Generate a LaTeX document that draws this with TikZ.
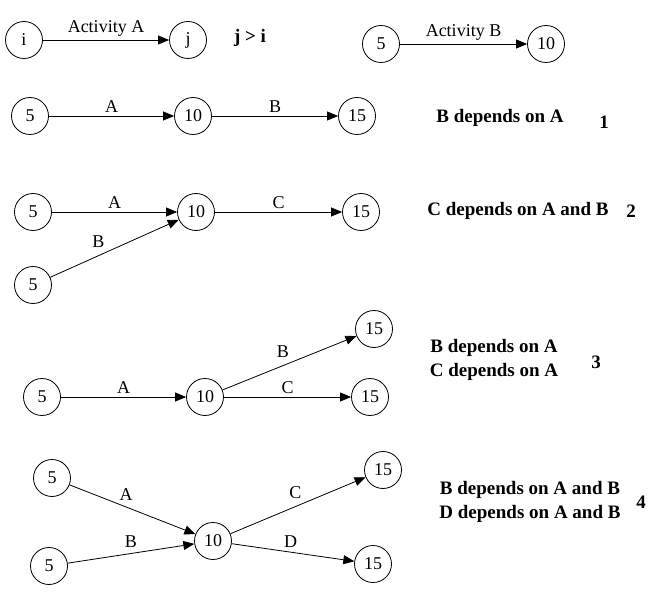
\documentclass[tikz,border=0pt]{standalone}
\usepackage{fontspec}
\setmainfont{Liberation Serif}
\usetikzlibrary{arrows.meta}
\begin{document}
\begin{tikzpicture}[x=1pt,y=-1pt,
  ev/.style={circle,draw,thick,minimum size=37pt,inner sep=0pt,font=\fontsize{18}{20}\selectfont},
  act/.style={-{Triangle[length=11pt,width=9pt]},thick},
  lbl/.style={font=\fontsize{18}{20}\selectfont},
  txt/.style={font=\fontsize{19}{24}\selectfont\bfseries,align=center}]
\useasboundingbox (0,0) rectangle (658,612);
% row 0
\node[ev] (i) at (24,40) {i};
\node[ev] (j) at (188,40) {j};
\draw[act] (i) -- (j) node[lbl,midway,above=0pt] {Activity A};
\node[txt] (ji) at (250,38) {j > i};
\node[ev] (b5) at (381,44) {5};
\node[ev] (b10) at (546,44) {10};
\draw[act] (b5) -- (b10) node[lbl,midway,above=0pt] {Activity B};
% row 1
\node[ev] (a1) at (30,116) {5};
\node[ev] (a2) at (193,116) {10};
\node[ev] (a3) at (357,116) {15};
\draw[act] (a1) -- (a2) node[lbl,midway,above=0pt] {A};
\draw[act] (a2) -- (a3) node[lbl,midway,above=0pt] {B};
\node[txt] (t1) at (500,118) {B depends on A};
\node[txt] (n1) at (604,122) {1};
% row 2
\node[ev] (c1) at (33,212) {5};
\node[ev] (c2) at (196,212) {10};
\node[ev] (c3) at (361,212) {15};
\node[ev] (c4) at (33,285) {5};
\draw[act] (c1) -- (c2) node[lbl,midway,above=0pt] {A};
\draw[act] (c2) -- (c3) node[lbl,midway,above=0pt] {C};
\draw[act] (c4) -- (c2) node[lbl,pos=0.45,above left=0pt] {B};
\node[txt] (t2) at (518,211) {C depends on A and B};
\node[txt] (n2) at (631,211) {2};
% row 3
\node[ev] (d1) at (42,397) {5};
\node[ev] (d2) at (205,397) {10};
\node[ev] (d3) at (374,329) {15};
\node[ev] (d4) at (370,397) {15};
\draw[act] (d1) -- (d2) node[lbl,midway,above=0pt] {A};
\draw[act] (d2) -- (d3) node[lbl,pos=0.45,above=4pt] {B};
\draw[act] (d2) -- (d4) node[lbl,midway,above=0pt] {C};
\node[txt] (t3) at (494,360) {B depends on A\\C depends on A};
\node[txt] (n3) at (596,362) {3};
% row 4
\node[ev] (e1) at (52,478) {5};
\node[ev] (e2) at (213,541) {10};
\node[ev] (e3) at (383,470) {15};
\node[ev] (e4) at (49,566) {5};
\node[ev] (e5) at (373,564) {15};
\draw[act] (e1) -- (e2) node[lbl,pos=0.45,above=3pt] {A};
\draw[act] (e4) -- (e2) node[lbl,pos=0.5,above=2pt] {B};
\draw[act] (e2) -- (e3) node[lbl,pos=0.48,above=4pt] {C};
\draw[act] (e2) -- (e5) node[lbl,pos=0.48,above=1pt] {D};
\node[txt] (t4) at (530,502) {B depends on A and B\\D depends on A and B};
\node[txt] (n4) at (641,502) {4};
\end{tikzpicture}
\end{document}
